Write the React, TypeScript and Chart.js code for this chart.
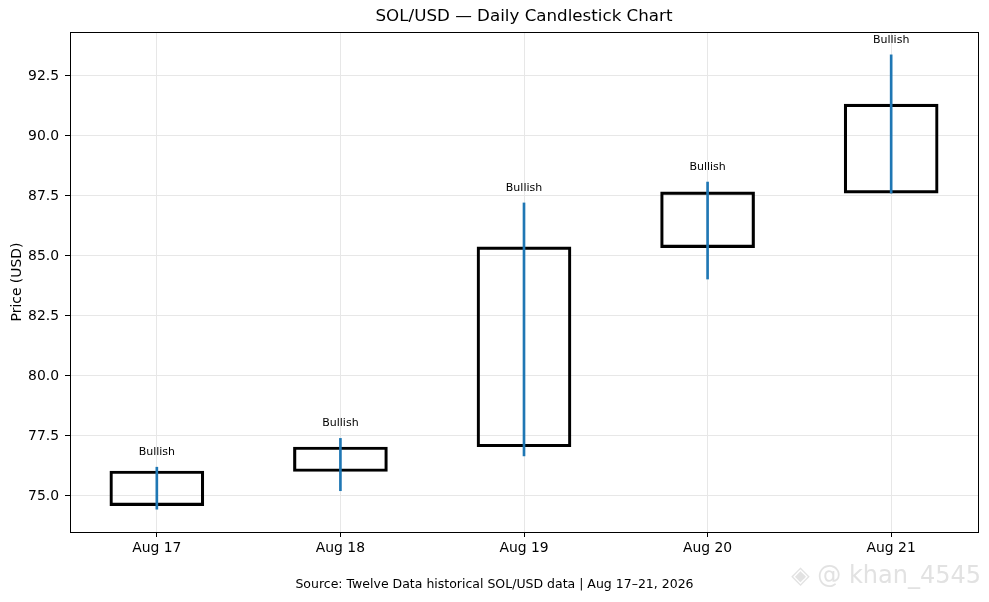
import { useEffect, useRef } from "react";
import { Chart, registerables } from "chart.js";

Chart.register(...registerables);

// 日足データ (SOL/USD)
const days = ["Aug 17", "Aug 18", "Aug 19", "Aug 20", "Aug 21"];
const opens = [74.6, 76.02, 77.05, 85.35, 87.62];
const closes = [76.04, 77.04, 85.38, 87.67, 91.33];
const highs = [76.2, 77.4, 87.21, 88.08, 93.38];
const lows = [74.45, 75.22, 76.67, 84.04, 87.62];
const yTicks = [75, 77.5, 80, 82.5, 85, 87.5, 90, 92.5];

const FONT = "'DejaVu Sans', sans-serif";

// "Bullish" ラベルと外枠
const overlayPlugin = {
  id: "overlay",
  afterDatasetsDraw(chart: any) {
    const { ctx, chartArea, scales } = chart;
    ctx.save();
    ctx.font = `11px ${FONT}`;
    ctx.fillStyle = "#000";
    ctx.textAlign = "center";
    ctx.textBaseline = "bottom";
    days.forEach((_, i) => {
      const label = closes[i] >= opens[i] ? "Bullish" : "Bearish";
      const x = scales.x.getPixelForValue(i);
      const y = scales.y.getPixelForValue(highs[i] + 0.4);
      ctx.fillText(label, x, y);
    });
    ctx.strokeStyle = "#000";
    ctx.lineWidth = 1;
    ctx.strokeRect(
      Math.round(chartArea.left) + 0.5,
      Math.round(chartArea.top) + 0.5,
      Math.round(chartArea.right - chartArea.left),
      Math.round(chartArea.bottom - chartArea.top)
    );
    ctx.restore();
  },
};

export default function App() {
  const canvasRef = useRef<HTMLCanvasElement>(null);

  useEffect(() => {
    if (!canvasRef.current) return;
    const ctx = canvasRef.current.getContext("2d");
    if (!ctx) return;

    const chart = new Chart(ctx, {
      type: "bar",
      data: {
        datasets: [
          {
            label: "wick",
            data: days.map((_, i) => ({ x: i, y: [lows[i], highs[i]] })) as any,
            backgroundColor: "#1f77b4",
            borderWidth: 0,
            barThickness: 2,
            grouped: false,
            order: 0,
          },
          {
            label: "body",
            data: days.map((_, i) => ({ x: i, y: [opens[i], closes[i]] })) as any,
            backgroundColor: "rgba(0,0,0,0)",
            borderColor: "#000",
            borderWidth: 2.5,
            borderSkipped: false,
            barThickness: 94,
            grouped: false,
            order: 1,
          },
        ],
      },
      options: {
        animation: false,
        responsive: true,
        maintainAspectRatio: false,
        layout: { padding: 0 },
        plugins: {
          legend: { display: false },
          tooltip: { enabled: false },
          title: {
            display: true,
            fullSize: false,
            text: "SOL/USD — Daily Candlestick Chart",
            color: "#000",
            font: { family: FONT, size: 16.7, weight: "normal" },
            padding: { top: 7, bottom: 5 },
          },
          subtitle: {
            display: true,
            position: "bottom",
            text: "Source: Twelve Data historical SOL/USD data | Aug 17–21, 2026",
            color: "#000",
            font: { family: FONT, size: 12.5 },
            padding: { top: 20, bottom: 10 },
          },
        },
        scales: {
          x: {
            type: "linear",
            min: -0.473,
            max: 4.473,
            offset: false,
            afterBuildTicks: (scale: any) => {
              scale.ticks = days.map((_, i) => ({ value: i }));
            },
            afterFit: (scale: any) => {
              scale.height = 25;
            },
            ticks: {
              color: "#000",
              font: { family: FONT, size: 13.9 },
              padding: 3,
              maxRotation: 0,
              callback: (v: any) => days[Math.round(Number(v))] ?? "",
            },
            grid: {
              offset: false,
              color: "#e7e7e7",
              tickColor: "#000",
              tickLength: 5,
            },
            border: { display: false },
          },
          y: {
            min: 73.5,
            max: 94.33,
            afterBuildTicks: (scale: any) => {
              scale.ticks = yTicks.map((v) => ({ value: v }));
            },
            afterFit: (scale: any) => {
              scale.width = 70;
            },
            ticks: {
              color: "#000",
              font: { family: FONT, size: 13.9 },
              padding: 6,
              callback: (v: any) => Number(v).toFixed(1),
            },
            grid: {
              color: "#e7e7e7",
              tickColor: "#000",
              tickLength: 5,
            },
            border: { display: false },
            title: {
              display: true,
              text: "Price (USD)",
              color: "#000",
              font: { family: FONT, size: 13.9 },
              padding: { top: 9, bottom: 2 },
            },
          },
          // 右側の余白用
          yRight: {
            position: "right",
            min: 73.5,
            max: 94.33,
            afterFit: (scale: any) => {
              scale.width = 11;
            },
            ticks: { display: false },
            grid: { display: false },
            border: { display: false },
          },
        },
      },
      plugins: [overlayPlugin],
    } as any);

    return () => {
      chart.destroy();
    };
  }, []);

  return (
    <div style={{ position: "absolute", left: 0, top: 0, width: 989, height: 602, background: "#fff" }}>
      <canvas ref={canvasRef} />
      <div
        style={{
          position: "absolute",
          right: 8,
          top: 561,
          fontFamily: FONT,
          fontSize: 24,
          color: "#e2e2e2",
          whiteSpace: "nowrap",
        }}
      >
        ◈ @ khan_4545
      </div>
    </div>
  );
}
